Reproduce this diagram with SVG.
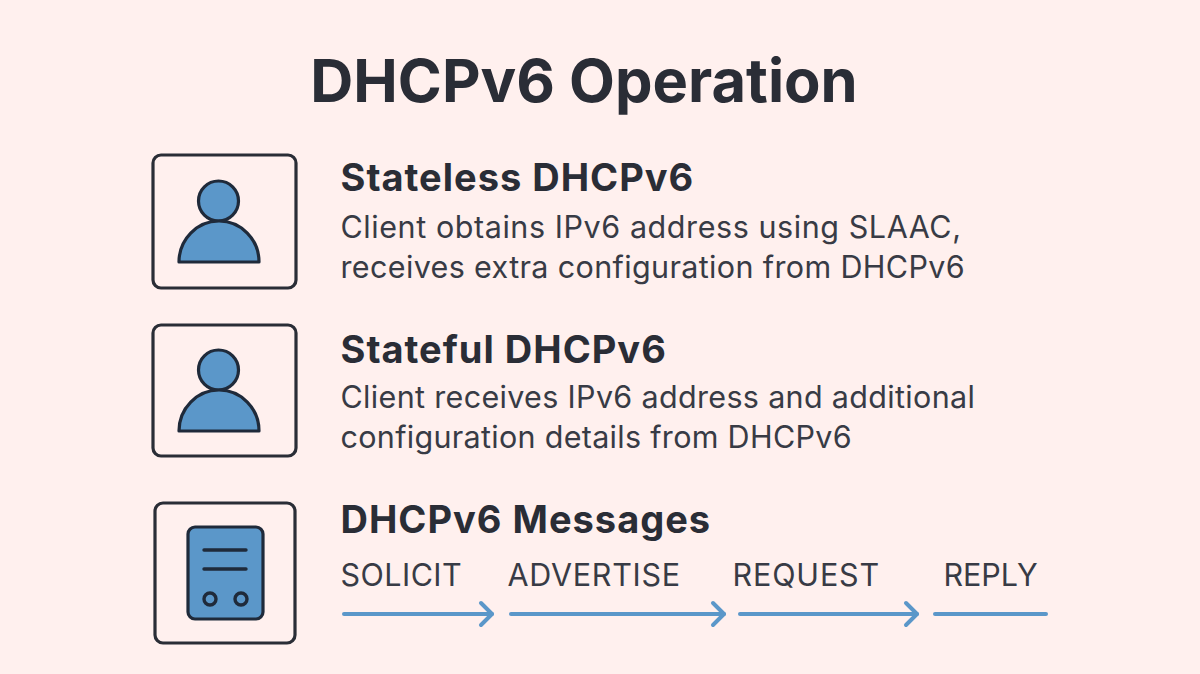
<svg xmlns="http://www.w3.org/2000/svg" width="1200" height="674" viewBox="0 0 1200 674">
<defs>
<marker id="arrow" markerUnits="userSpaceOnUse" markerWidth="24" markerHeight="30" refX="17" refY="14" orient="auto"><path d="M6 3 L17 14 L6 25" fill="none" stroke="#5b97c9" stroke-width="4" stroke-linecap="round" stroke-linejoin="round"/></marker>
</defs>
<style>
text{font-family:Inter,"Liberation Sans",sans-serif;fill:#2a2d36}
.title{font-size:59.6px;font-weight:700}
.head{font-size:38px;font-weight:700;letter-spacing:1px}
.body{font-size:30.5px;font-weight:400;fill:#383b45}
.msg{font-size:30.5px;font-weight:400;fill:#383b45}
.box{fill:none;stroke:#2a2d36;stroke-width:3.2}
.icon{fill:#5b97c9;stroke:#1f2a3a;stroke-width:3.2;stroke-linejoin:round}
.detail{fill:none;stroke:#1f2a3a;stroke-width:3.4;stroke-linecap:round}
.flow{fill:none;stroke:#5b97c9;stroke-width:4;stroke-linecap:round}
</style>
<rect width="1200" height="674" fill="#fff0ee"/>
<text class="title" x="584" y="102" text-anchor="middle">DHCPv6 Operation</text>
<g id="stateless">
<rect class="box" x="153" y="155" width="143" height="133" rx="8"/>
<circle class="icon" cx="218.500" cy="201" r="20"/>
<path class="icon" d="M179 262 A40 41 0 0 1 259 262 Z"/>
<text class="head" x="340.500" y="191">Stateless DHCPv6</text>
<text class="body" x="340.500" y="238" letter-spacing=".57">Client obtains IPv6 address using SLAAC,</text>
<text class="body" x="340.500" y="278" letter-spacing=".36">receives extra configuration from DHCPv6</text>
</g>
<g id="stateful">
<rect class="box" x="153" y="325" width="143" height="131" rx="8"/>
<circle class="icon" cx="218.500" cy="370" r="20"/>
<path class="icon" d="M179 431 A40 41 0 0 1 259 431 Z"/>
<text class="head" x="340.500" y="362.500">Stateful DHCPv6</text>
<text class="body" x="340.500" y="408" letter-spacing=".33">Client receives IPv6 address and additional</text>
<text class="body" x="340.500" y="448" letter-spacing=".3">configuration details from DHCPv6</text>
</g>
<g id="messages">
<rect class="box" x="155" y="503" width="140" height="140" rx="8"/>
<rect class="icon" x="188" y="527" width="75" height="92" rx="7"/>
<path class="detail" d="M204 550 H246 M204 569 H246"/>
<circle class="detail" cx="210" cy="599" r="6"/>
<circle class="detail" cx="241" cy="599" r="6"/>
<text class="head" x="340.500" y="533">DHCPv6 Messages</text>
</g>
<g id="solicit"><text class="msg" x="340.500" y="586" letter-spacing=".45">SOLICIT</text></g>
<g id="advertise"><text class="msg" x="507.500" y="586" letter-spacing=".72">ADVERTISE</text></g>
<g id="request"><text class="msg" x="732.500" y="586" letter-spacing=".85">REQUEST</text></g>
<g id="reply"><text class="msg" x="943.500" y="586" letter-spacing="-.05">REPLY</text></g>
<g id="connectors">
<path class="flow" d="M344 614 H492" marker-end="url(#arrow)"/>
<path class="flow" d="M511 614 H724" marker-end="url(#arrow)"/>
<path class="flow" d="M740 614 H917" marker-end="url(#arrow)"/>
<path class="flow" d="M935 614 H1046"/>
</g>
</svg>
